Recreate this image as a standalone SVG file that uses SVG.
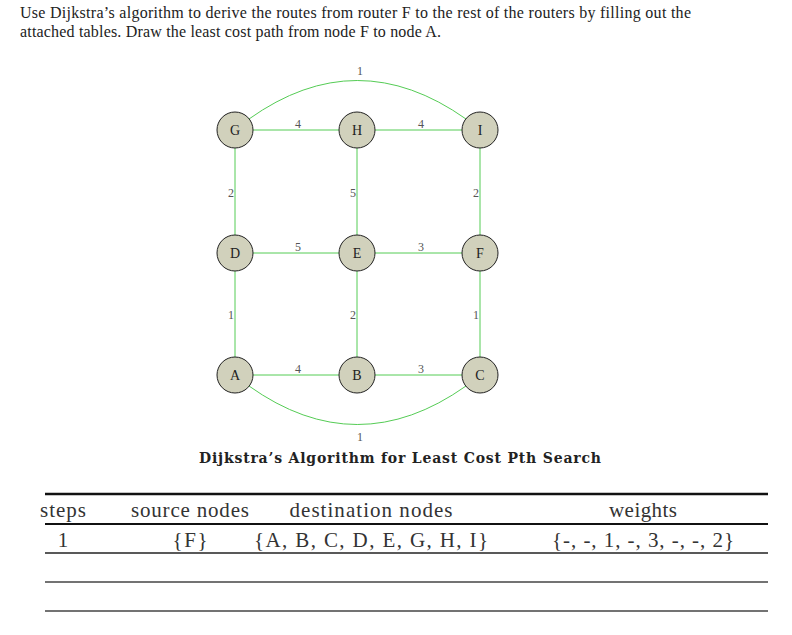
<svg xmlns="http://www.w3.org/2000/svg" width="792" height="635" viewBox="0 0 792 635">
<style>
.t{font-family:"Liberation Serif",serif;fill:#222}
.e{stroke:#5c5;stroke-width:1;fill:none}
.n circle{fill:#d1d1bc;stroke:#222;stroke-width:1}
.n text{font-family:"Liberation Serif",serif;font-size:14px;text-anchor:middle;fill:#222}
.w{font-family:"Liberation Serif",serif;font-size:12px;fill:#555;text-anchor:middle}
.h{font-family:"Liberation Serif",serif;font-size:21px;fill:#333;text-anchor:middle}
</style>
<rect width="792" height="635" fill="#fff"/>
<text class="t" x="20" y="18" font-size="16" textLength="671">Use Dijkstra’s algorithm to derive the routes from router F to the rest of the routers by filling out the</text>
<text class="t" x="20" y="37" font-size="16" textLength="421">attached tables. Draw the least cost path from node F to node A.</text>
<g id="connectors">
<path class="e" d="M249,119 Q357,42 466,119"/>
<path class="e" d="M249,386 Q357,463 466,386"/>
<line class="e" x1="253" y1="130" x2="339" y2="130"/>
<line class="e" x1="375" y1="130" x2="462" y2="130"/>
<line class="e" x1="253" y1="253" x2="339" y2="253"/>
<line class="e" x1="375" y1="253" x2="462" y2="253"/>
<line class="e" x1="253" y1="375" x2="339" y2="375"/>
<line class="e" x1="375" y1="375" x2="462" y2="375"/>
<line class="e" x1="235" y1="148" x2="235" y2="235"/>
<line class="e" x1="357" y1="148" x2="357" y2="235"/>
<line class="e" x1="480" y1="148" x2="480" y2="235" stroke="#9d9"/>
<line class="e" x1="235" y1="271" x2="235" y2="357"/>
<line class="e" x1="357" y1="271" x2="357" y2="357"/>
<line class="e" x1="480" y1="271" x2="480" y2="357"/>
<text class="w" x="360" y="75">1</text>
<text class="w" x="360" y="441">1</text>
<text class="w" x="298" y="128">4</text>
<text class="w" x="421" y="128">4</text>
<text class="w" x="298" y="251">5</text>
<text class="w" x="421" y="251">3</text>
<text class="w" x="298" y="373">4</text>
<text class="w" x="421" y="373">3</text>
<text class="w" x="231" y="197">2</text>
<text class="w" x="353" y="197">5</text>
<text class="w" x="476" y="197">2</text>
<text class="w" x="231" y="319">1</text>
<text class="w" x="353" y="319">2</text>
<text class="w" x="476" y="319">1</text>
</g>
<g id="G" class="n"><circle cx="235" cy="130" r="18"/><text x="235" y="135">G</text></g>
<g id="H" class="n"><circle cx="357" cy="130" r="18"/><text x="357" y="135">H</text></g>
<g id="I" class="n"><circle cx="480" cy="130" r="18"/><text x="480" y="135">I</text></g>
<g id="D" class="n"><circle cx="235" cy="253" r="18"/><text x="235" y="258">D</text></g>
<g id="E" class="n"><circle cx="357" cy="253" r="18"/><text x="357" y="258">E</text></g>
<g id="F" class="n"><circle cx="480" cy="253" r="18"/><text x="480" y="258">F</text></g>
<g id="A" class="n"><circle cx="235" cy="375" r="18"/><text x="235" y="380">A</text></g>
<g id="B" class="n"><circle cx="357" cy="375" r="18"/><text x="357" y="380">B</text></g>
<g id="C" class="n"><circle cx="480" cy="375" r="18"/><text x="480" y="380">C</text></g>
<text x="400" y="463" font-family="DejaVu Serif,serif" font-size="14" font-weight="bold" fill="#222" text-anchor="middle" textLength="402">Dijkstra’s Algorithm for Least Cost Pth Search</text>
<g id="table">
<line x1="45" y1="494" x2="768" y2="494" stroke="#111" stroke-width="2.5"/>
<line x1="45" y1="524" x2="768" y2="524" stroke="#111" stroke-width="2"/>
<line x1="45" y1="553" x2="768" y2="553" stroke="#222" stroke-width="1.5"/>
<line x1="45" y1="582" x2="768" y2="582" stroke="#444" stroke-width="1.5"/>
<line x1="45" y1="611" x2="768" y2="611" stroke="#444" stroke-width="1.5"/>
<text class="h" x="63" y="517" textLength="46">steps</text>
<text class="h" x="190" y="517" textLength="118">source nodes</text>
<text class="h" x="371" y="517" textLength="163">destination nodes</text>
<text class="h" x="643" y="517" textLength="68">weights</text>
<text class="h" x="63" y="547">1</text>
<text class="h" x="190" y="547" textLength="35">{F}</text>
<text class="h" x="371" y="547" textLength="234">{A, B, C, D, E, G, H, I}</text>
<text class="h" x="643" y="547" textLength="182">{-, -, 1, -, 3, -, -, 2}</text>
</g>
</svg>
